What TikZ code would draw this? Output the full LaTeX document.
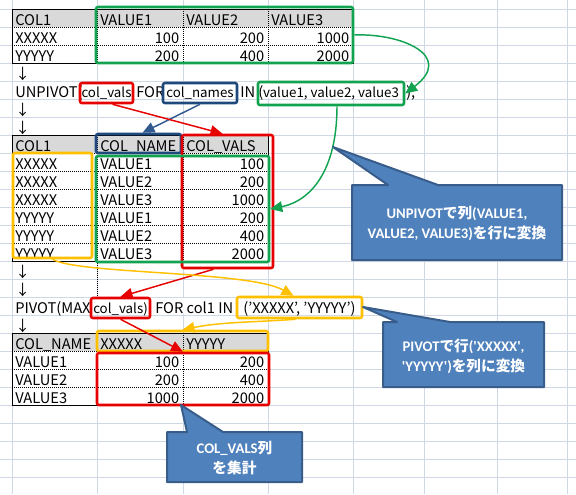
\documentclass[tikz,border=0pt]{standalone}
\usepackage{fontspec}
\setmainfont{Noto Sans CJK JP}
\newfontfamily\calloutfont{Carlito}
\newfontfamily\jpfont{Noto Sans CJK JP}
\usetikzlibrary{arrows.meta,fit,calc}
\definecolor{xlGrid}{RGB}{208,215,229}
\definecolor{xlHead}{RGB}{217,217,217}
\definecolor{xlGreen}{RGB}{18,163,80}
\definecolor{xlRed}{RGB}{230,0,0}
\definecolor{xlNavy}{RGB}{31,73,125}
\definecolor{xlYellow}{RGB}{255,192,0}
\definecolor{xlArrowBlue}{RGB}{50,90,145}
\definecolor{xlCallout}{RGB}{79,129,189}
\definecolor{xlCalloutEdge}{RGB}{56,93,138}
\newcommand{\jp}[1]{{\jpfont\bfseries #1}}

\begin{document}
\begin{tikzpicture}[x=0.75pt, y=-0.75pt,
    font=\fontsize{11}{13}\selectfont,
    grid/.style={draw=xlGrid, line width=0.75pt},
    cellL/.style={anchor=base west, inner sep=0pt},
    cellR/.style={anchor=base east, inner sep=0pt},
    cellC/.style={anchor=base, inner sep=0pt},
    boxtext/.style={cellC, font=\fontsize{10}{12}\selectfont},
    tblborder/.style={draw=black, line width=0.75pt},
    tbldot/.style={draw=black, line width=0.75pt, dash pattern=on 0.75pt off 0.75pt},
    hl/.style={rectangle, rounded corners=1.5pt, line width=1.9pt, inner sep=0pt},
    arr/.style={-{Triangle[length=9pt, width=8pt]}, line width=1.1pt},
    callout/.style={fill=xlCallout, draw=xlCalloutEdge, line width=1.5pt, line join=round},
    callouttext/.style={text=white, align=center, inner sep=0pt,
                        font=\calloutfont\bfseries\fontsize{11}{15}\selectfont}
  ]
  \useasboundingbox (0,0) rectangle (576,494);

  % sheet grid
  \foreach \k in {0,...,26}
    \draw[grid] (0,9+18*\k) -- (576,9+18*\k);
  \foreach \gx in {12,97,183,268,353,424,497,567}
    \draw[grid] (\gx,0) -- (\gx,494);
  % overflowing text rows hide the grid
  \fill[white] (12.6,81.6) rectangle (423.4,98.4);
  \fill[white] (12.6,297.6) rectangle (423.4,314.4);

  % table 1
  \fill[white] (12,9) rectangle (353,63);
  \fill[xlHead] (12,9) rectangle (353,27);
  \foreach \dy in {27,45}
    \draw[tbldot] (12,\dy) -- (353,\dy);
  \foreach \dx in {97,183,268}
    \draw[tbldot] (\dx,9) -- (\dx,63);
  \draw[tblborder] (12,9) rectangle (353,63);
  \foreach \cx/\txt [count=\i] in {12/COL1, 97/VALUE1, 183/VALUE2, 268/VALUE3}
    \node[cellL] (hA\i) at (\cx+3,25.5) {\txt};
  \foreach \rw/\key/\va/\vb/\vc in {1/XXXXX/100/200/1000, 2/YYYYY/200/400/2000} {
    \node[cellL] (kA\rw) at (15,25.5+18*\rw) {\key};
    \node[cellR] (vA\rw) at (179.5,25.5+18*\rw) {\va};
    \node[cellR] (wA\rw) at (264.5,25.5+18*\rw) {\vb};
    \node[cellR] (xA\rw) at (349.5,25.5+18*\rw) {\vc};
  }

  % table 2
  \fill[white] (12,135) rectangle (268,261);
  \fill[xlHead] (12,135) rectangle (268,153);
  \foreach \dy in {153,171,189,207,225,243}
    \draw[tbldot] (12,\dy) -- (268,\dy);
  \foreach \dx in {97,183}
    \draw[tbldot] (\dx,135) -- (\dx,261);
  \draw[tblborder] (12,135) rectangle (268,261);
  \draw[tbldot] (97,261) -- (97,297);
  \foreach \cx/\txt [count=\i] in {12/COL1, 97/COL\_NAME, 183/COL\_VALS}
    \node[cellL] (hB\i) at (\cx+3,151.5) {\txt};
  \foreach \rw/\key/\nm/\vl in {8/XXXXX/VALUE1/100, 9/XXXXX/VALUE2/200,
      10/XXXXX/VALUE3/1000, 11/YYYYY/VALUE1/200, 12/YYYYY/VALUE2/400,
      13/YYYYY/VALUE3/2000} {
    \node[cellL] (kB\rw) at (15,25.5+18*\rw) {\key};
    \node[cellL] (nB\rw) at (100,25.5+18*\rw) {\nm};
    \node[cellR] (vB\rw) at (264.5,25.5+18*\rw) {\vl};
  }

  % table 3
  \fill[white] (12,333) rectangle (268,405);
  \fill[xlHead] (12,333) rectangle (268,351);
  \foreach \dy in {351,369,387}
    \draw[tbldot] (12,\dy) -- (268,\dy);
  \foreach \dx in {97,183}
    \draw[tbldot] (\dx,333) -- (\dx,405);
  \draw[tblborder] (12,333) rectangle (268,405);
  \foreach \cx/\txt [count=\i] in {12/COL\_NAME, 97/XXXXX, 183/YYYYY}
    \node[cellL] (hC\i) at (\cx+3,349.5) {\txt};
  \foreach \rw/\nm/\va/\vb in {19/VALUE1/100/200, 20/VALUE2/200/400, 21/VALUE3/1000/2000} {
    \node[cellL] (nC\rw) at (15,25.5+18*\rw) {\nm};
    \node[cellR] (vC\rw) at (179.5,25.5+18*\rw) {\va};
    \node[cellR] (wC\rw) at (264.5,25.5+18*\rw) {\vb};
  }

  % down arrows
  \foreach \rw in {3,5,6,14,15,17}
    \node[cellL] (dn\rw) at (15,25.5+18*\rw) {↓};

  % UNPIVOT line
  \node[cellL]   (uKw)    at (15,97.5)    {UNPIVOT(};
  \node[boxtext] (uVals)  at (106.5,97.5) {col\_vals};
  \node[cellL]   (uFor)   at (136,97.5)   {FOR};
  \node[boxtext] (uNames) at (200,97.5)   {col\_names};
  \node[cellL]   (uIn)    at (240,97.5)   {IN (};
  \node[boxtext] (uList)  at (331,97.5)   {value1, value2, value3};
  \node[cellL]   (uEnd)   at (406,97.5)   {);};

  % PIVOT line
  \node[cellL]   (pKw)   at (15,313.5)    {PIVOT(MAX};
  \node[boxtext] (pVals) at (120.5,313.5) {col\_vals)};
  \node[cellL]   (pFor)  at (155,313.5)   {FOR col1 IN};
  \node[cellC]   (pList) at (299.5,313.5) {('XXXXX', 'YYYYY')};

  % highlight frames
  \node[hl, draw=xlGreen, fit={(96,7) (353,63)}] (gTop) {};
  \node[hl, draw=xlRed, fit={(80,83) (133,103)}] (uvals) {};
  \node[hl, draw=xlNavy, fit={(163,83) (237,103)}] (unames) {};
  \node[hl, draw=xlGreen, fit={(258,82) (404,105)}] (uin) {};
  \node[hl, draw=xlYellow, fit={(13,153) (92,258)}] (ykey) {};
  \node[hl, draw=xlNavy, fit={(96,134) (181,153)}] (nameHdr) {};
  \node[hl, draw=xlRed, fit={(182,135) (273,268)}] (valCol) {};
  \node[hl, draw=xlGreen, fit={(96,156) (269,262)}] (gData) {};
  \node[hl, draw=xlRed, fit={(91,298) (150,318)}] (pvals) {};
  \node[hl, draw=xlYellow, fit={(237,297) (362,318)}] (pin) {};
  \node[hl, draw=xlYellow, fit={(97,331) (268,351)}] (yHdr) {};
  \node[hl, draw=xlRed, fit={(97,353) (269,405)}] (rData) {};

  % connectors
  \draw[arr, xlGreen] (gTop.east) .. controls +(46,-2) and +(50,-38) .. (uin.east);
  \draw[arr, xlGreen] ($(uin.south)+(6,0)$) .. controls +(0,65) and +(40,-8) .. (gData.east);
  \draw[arr, xlArrowBlue] (unames.south) -- ($(nameHdr.north)+(4,0)$);
  \draw[arr, xlRed] ($(uvals.south)+(6,0)$) -- ($(valCol.north)+(-5,0)$);
  \draw[arr, xlRed] ($(valCol.south)+(-14,0)$) -- (pvals.north);
  \draw[arr, xlRed] (pvals.south) -- (rData.north);
  \draw[arr, xlYellow] (ykey.south) .. controls +(25,15) and +(-45,-25) .. ($(pin.north)+(-6,0)$);
  \draw[arr, xlYellow] ($(pin.south)+(-4,0)$) .. controls +(-40,3) and +(40,-8) .. (yHdr.north);

  % callouts
  \draw[callout] (352,185) -- (388,185) -- (333,147) -- (438,185) -- (562,185)
    -- (562,260) -- (352,260) -- cycle;
  \node[callouttext] (unpivotNote) at (457,223.5)
    {UNPIVOT\jp{で列}(VALUE1,\\VALUE2, VALUE3)\jp{を行に変換}};
  \draw[callout] (383,322) -- (397,322) -- (363,307) -- (450,322) -- (544,322)
    -- (544,387) -- (383,387) -- cycle;
  \node[callouttext] (pivotNote) at (463.5,356.5)
    {PIVOT\jp{で行}('XXXXX',\\'YYYYY')\jp{を列に変換}};
  \draw[callout] (167,432) -- (187,432) -- (181,405) -- (223,432) -- (302,432)
    -- (302,482) -- (167,482) -- cycle;
  \node[callouttext] (aggNote) at (234.5,458.5)
    {COL\_VALS\jp{列}\\\jp{を集計}};
\end{tikzpicture}
\end{document}
